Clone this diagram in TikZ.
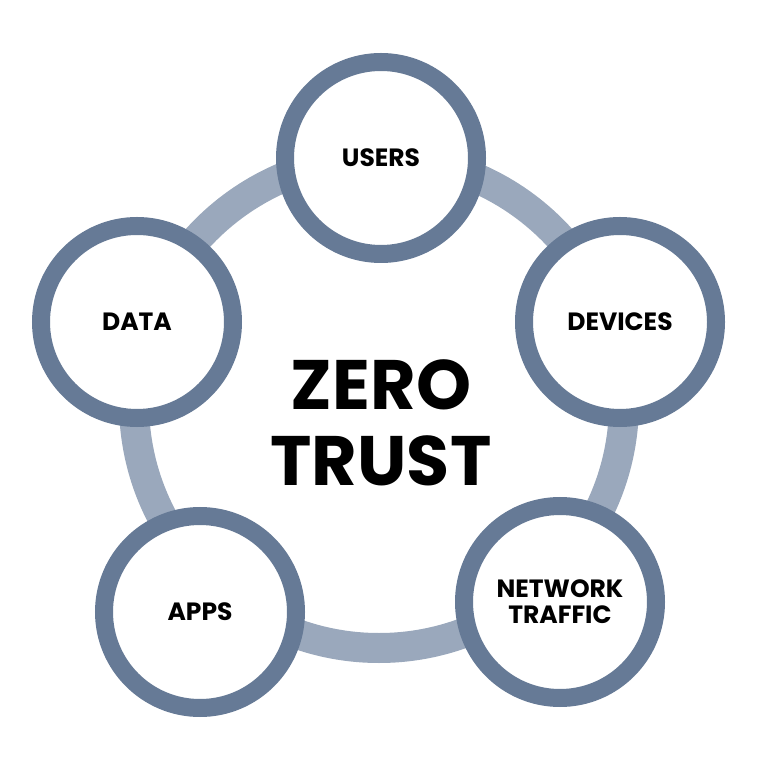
\documentclass[tikz,border=0pt]{standalone}
\usepackage{fontspec}
\setmainfont{Poppins}
\definecolor{ringc}{HTML}{667A96}
\definecolor{bigc}{HTML}{9AA8BC}
\begin{document}
\begin{tikzpicture}[x=1pt,y=1pt,
  item/.style={circle,draw=ringc,line width=18pt,fill=white,minimum size=192pt,inner sep=0pt,align=center,font=\bfseries\fontsize{25}{26}\selectfont}]
\useasboundingbox (0,0) rectangle (768,761);
\node[circle,draw=bigc,line width=30pt,minimum size=490pt,inner sep=0pt] (big) at (379,358) {};
\node[item] (users) at (381,603) {USERS};
\node[item] (devices) at (620,439) {DEVICES};
\node[item] (net) at (560,159) {NETWORK\\TRAFFIC};
\node[item] (apps) at (200,149) {APPS};
\node[item] (data) at (137,439) {DATA};
\node[font=\bfseries\fontsize{70}{76}\selectfont,align=center] (zt) at (381,338) {ZERO\\TRUST};
\end{tikzpicture}
\end{document}
